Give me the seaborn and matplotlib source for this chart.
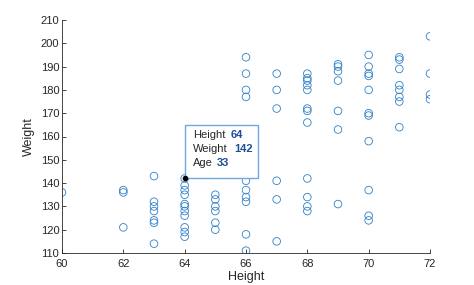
import matplotlib
matplotlib.use("Agg")
import matplotlib.pyplot as plt
import matplotlib.transforms as mtransforms
from matplotlib.patches import Rectangle
import pandas as pd
import seaborn as sns

# heights (in) and weights (lb), one list per height column
heights = ([60] + [62] * 3 + [63] * 7 + [64] * 11 + [65] * 6 + [66] * 10
           + [67] * 6 + [68] * 12 + [69] * 7 + [70] * 11 + [71] * 8 + [72] * 4)
weights = ([136]
           + [137, 136, 121]
           + [143, 132, 130, 128, 124, 123, 114]
           + [142, 139, 137, 135, 131, 130, 128, 126, 121, 119, 117]
           + [135, 133, 130, 128, 123, 120]
           + [194, 187, 180, 177, 141, 137, 134, 132, 118, 111]
           + [187, 180, 172, 141, 133, 115]
           + [187, 185, 184, 182, 180, 172, 171, 166, 142, 134, 130, 128]
           + [191, 190, 188, 184, 171, 163, 131]
           + [195, 190, 187, 186, 180, 170, 169, 158, 137, 126, 124]
           + [194, 193, 189, 182, 180, 177, 175, 164]
           + [203, 187, 178, 176])

tip_labels = ["Height", "Weight", "Age"]
tip_values = ["64", "142", "33"]
tip_point = (64, 142)

df = pd.DataFrame({"Height": heights, "Weight": weights})

sns.set_theme(style="ticks")
plt.rcParams["font.family"] = ["Liberation Sans", "DejaVu Sans"]
axcol = "#262626"
blue = "#2F80C8"

fig = plt.figure(figsize=(4.74, 2.85), dpi=100)
ax = fig.add_axes([62 / 474, 1 - 253 / 285, 368 / 474, 233 / 285])

sns.scatterplot(data=df, x="Height", y="Weight", ax=ax, marker="o", s=30,
                facecolors="none", edgecolor=blue, linewidth=0.6)
ax.scatter([tip_point[0]], [tip_point[1]], s=9, color="black", zorder=5)

ax.set_xlim(60, 72)
ax.set_ylim(110, 210)
ax.set_xticks(range(60, 73, 2))
ax.set_yticks(range(110, 211, 10))
ax.tick_params(direction="in", length=3, width=0.6, colors=axcol, labelsize=8, pad=2)
ax.tick_params(axis="x", pad=4)
for s in ["top", "right"]:
    ax.spines[s].set_visible(False)
for s in ["left", "bottom"]:
    ax.spines[s].set_color(axcol)
    ax.spines[s].set_linewidth(0.6)
ax.set_xlabel("Height", fontsize=9, color=axcol, labelpad=2)
ax.set_ylabel("Weight", fontsize=9, color=axcol, labelpad=4)

# datatip box anchored to the selected point, offsets in pixels
fig.canvas.draw()
px, py = ax.transData.transform(tip_point)
pix = mtransforms.Affine2D().translate(px, py)
ax.add_patch(Rectangle((0, 0), 73, 53, transform=pix, facecolor="white",
                       edgecolor="#6FA8DC", linewidth=1.0, zorder=4, clip_on=False))
label_dy = [43, 29.4, 15.4]
value_dx = [46, 49.5, 32.5]
for lab, val, dy, dx in zip(tip_labels, tip_values, label_dy, value_dx):
    ax.text(8, dy, lab, transform=pix, fontsize=8, color=axcol,
            va="center", ha="left", zorder=6)
    ax.text(dx, dy, val, transform=pix, fontsize=8, color="#1F4E9A",
            fontweight="bold", va="center", ha="left", zorder=6)

fig.savefig("out.png", dpi=100)
